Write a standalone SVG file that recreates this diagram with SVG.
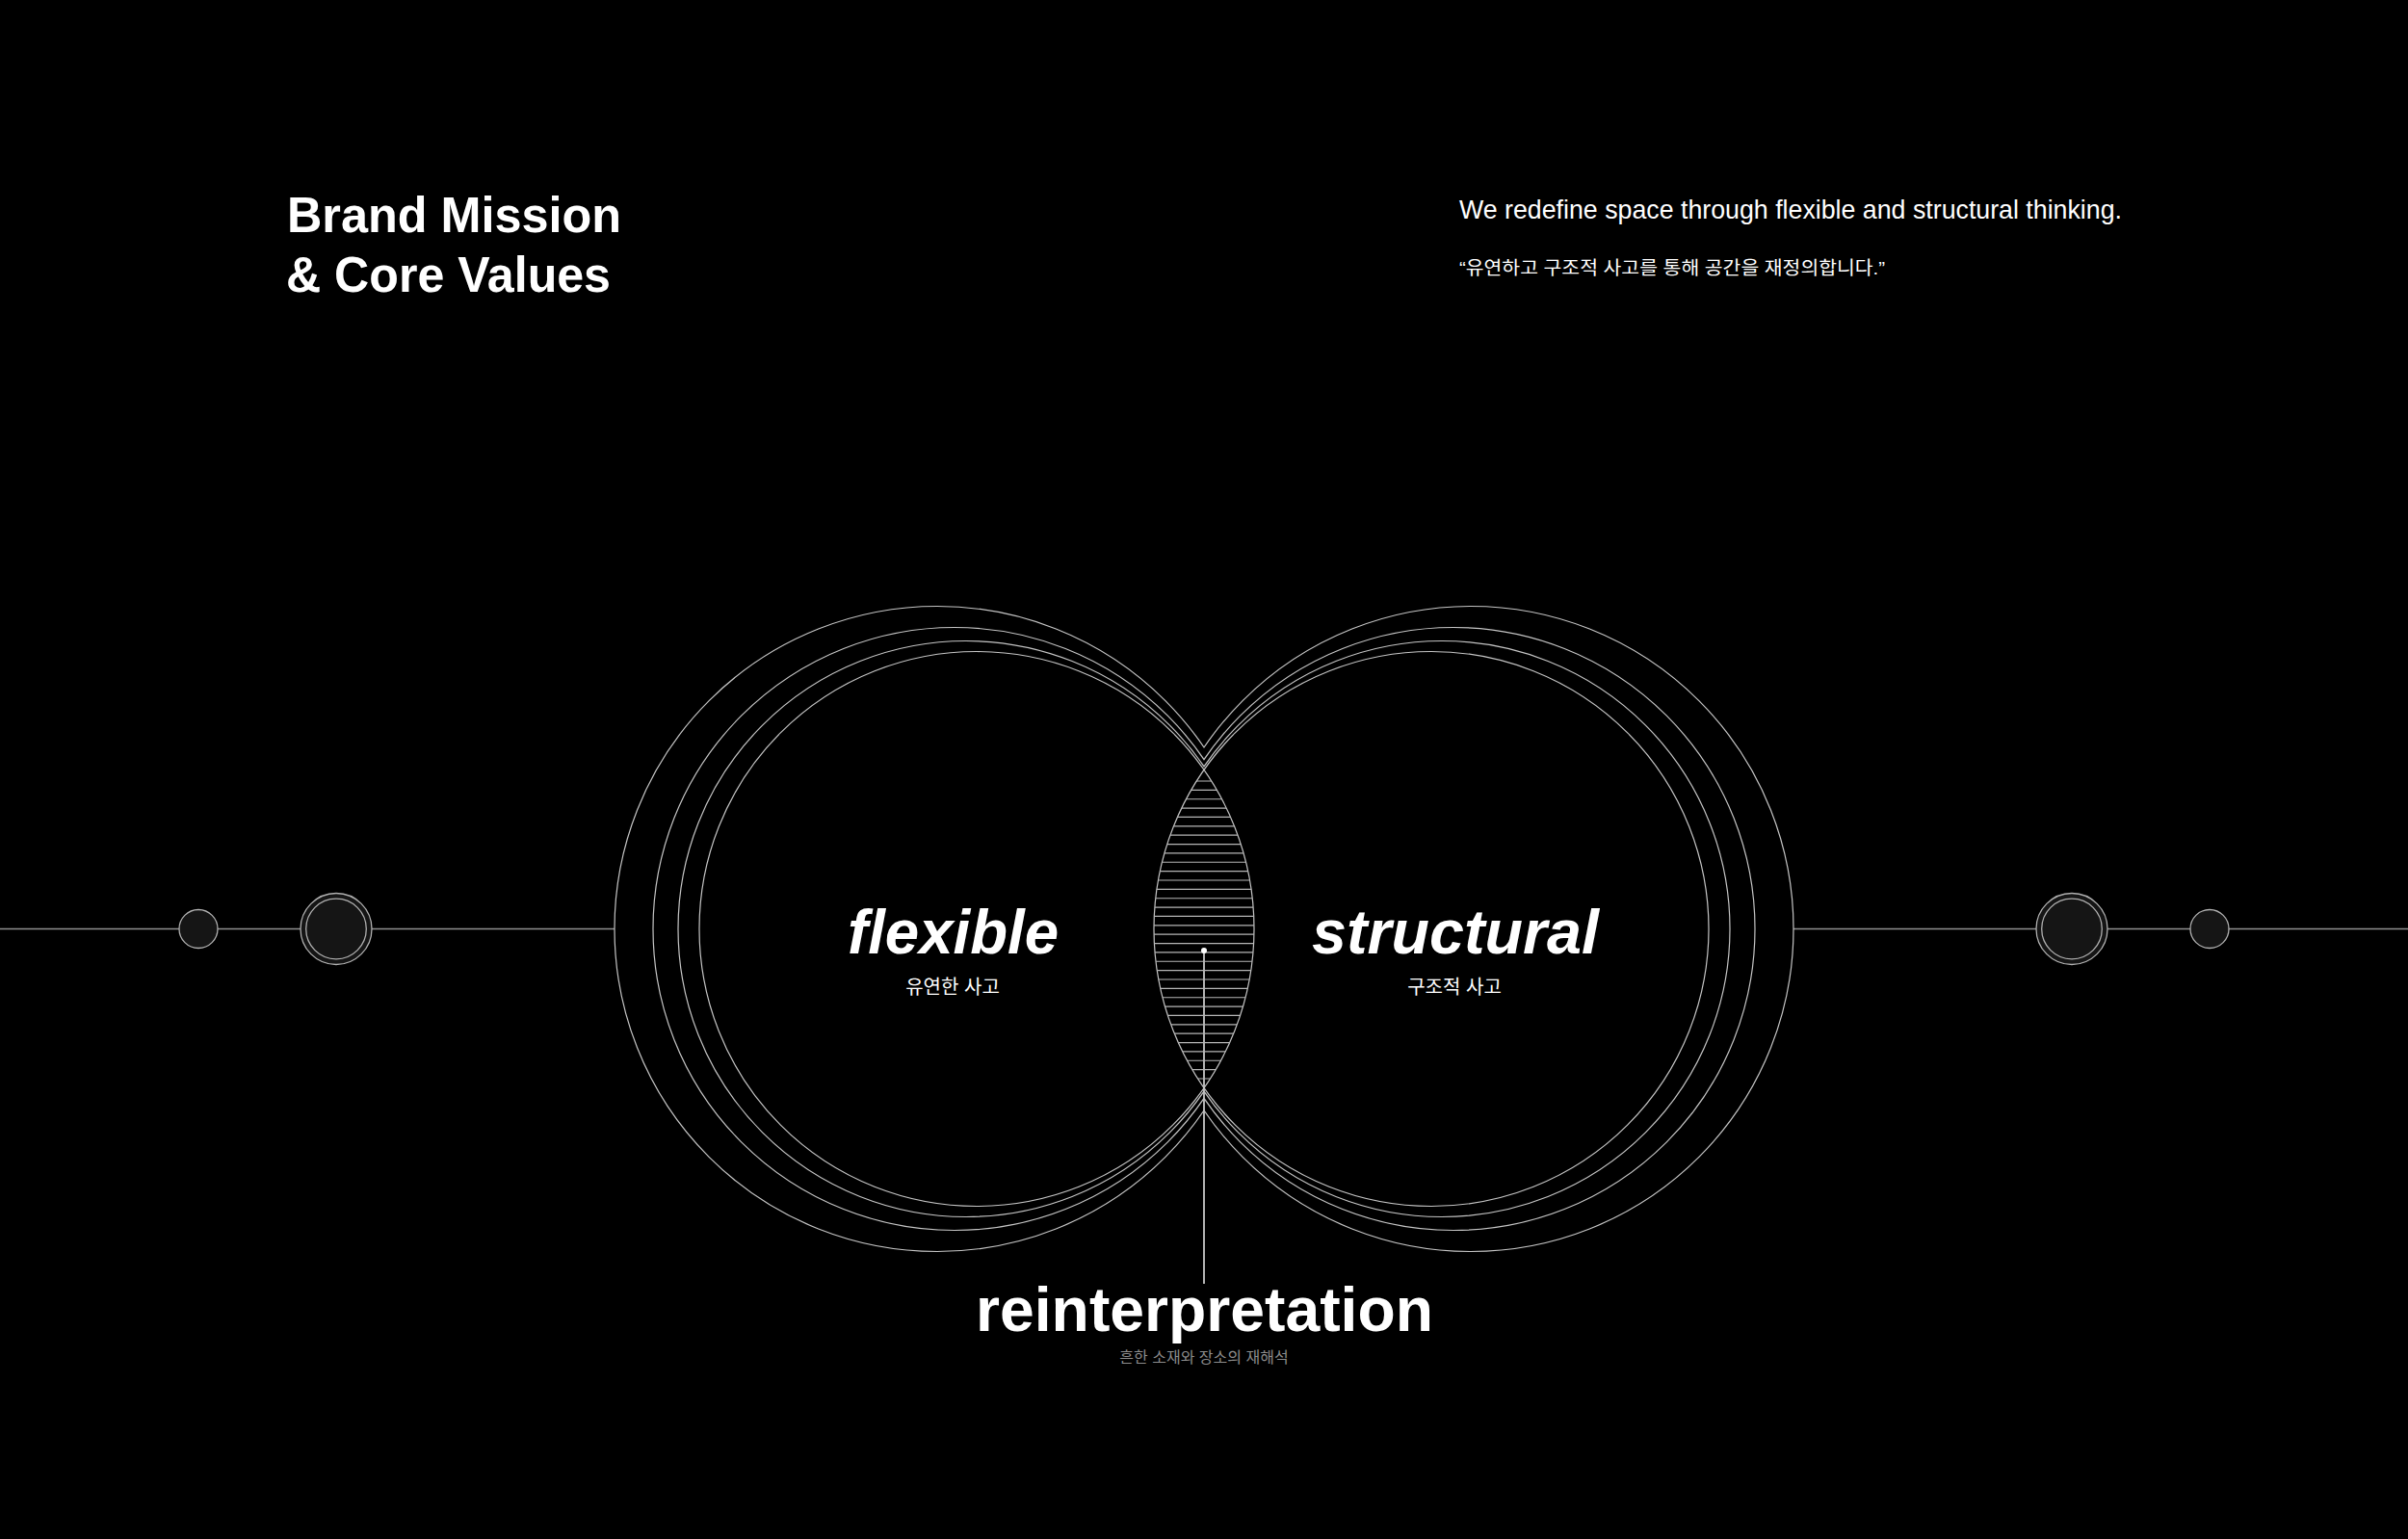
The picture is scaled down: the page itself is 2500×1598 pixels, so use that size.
<svg xmlns="http://www.w3.org/2000/svg" width="2500" height="1598" viewBox="0 0 2500 1598">
<style>
.ring{fill:none;stroke:#c4c4c4;stroke-width:1.2}
.dot{fill:#151515;stroke:#b0b0b0;stroke-width:1.3}
.axis{stroke:#8f8f8f;stroke-width:1.3;fill:none}
.hatch{stroke:#b5b5b5;stroke-width:1.2}
.en{font-family:"Liberation Sans",Arial,sans-serif;fill:#fff}
.kr{font-family:"Liberation Sans","Noto Sans CJK KR",sans-serif;fill:#fff}
</style>
<defs>
<clipPath id="clipL"><rect x="0" y="0" width="1250" height="1598"/></clipPath>
<clipPath id="clipR"><rect x="1250" y="0" width="1250" height="1598"/></clipPath>
<clipPath id="innerL"><circle cx="1014" cy="964.5" r="288"/></clipPath>
<clipPath id="innerR"><circle cx="1486" cy="964.5" r="288"/></clipPath>
</defs>
<rect x="0" y="0" width="2500" height="1598" fill="#000"/>

<g id="connectors">
<line class="axis" x1="0" y1="964.5" x2="638" y2="964.5"/>
<line class="axis" x1="1862" y1="964.5" x2="2500" y2="964.5"/>
<line x1="1250" y1="987" x2="1250" y2="1333" stroke="#e0e0e0" stroke-width="1.6"/>
</g>

<g id="title">
<text class="en" x="298" y="241" font-size="52" font-weight="bold" textLength="347" lengthAdjust="spacingAndGlyphs">Brand Mission</text>
<text class="en" x="297" y="303" font-size="52" font-weight="bold" textLength="337" lengthAdjust="spacingAndGlyphs">&amp; Core Values</text>
</g>

<g id="tagline">
<text class="en" x="1515" y="227" font-size="27.5" textLength="688" lengthAdjust="spacingAndGlyphs">We redefine space through flexible and structural thinking.</text>
<text class="kr" x="1515" y="285" font-size="19" textLength="442" lengthAdjust="spacingAndGlyphs">“유연하고 구조적 사고를 통해 공간을 재정의합니다.”</text>
</g>

<g id="orbit-left">
<circle class="dot" cx="206" cy="964.5" r="20"/>
<circle class="dot" cx="349" cy="964.5" r="37"/>
<circle fill="none" stroke="#b0b0b0" stroke-width="1.3" cx="349" cy="964.5" r="31.3"/>
</g>
<g id="orbit-right">
<circle class="dot" cx="2294" cy="964.5" r="20"/>
<circle class="dot" cx="2151" cy="964.5" r="37"/>
<circle fill="none" stroke="#b0b0b0" stroke-width="1.3" cx="2151" cy="964.5" r="31.3"/>
</g>

<g id="flexible">
<g clip-path="url(#clipL)">
<circle class="ring" cx="973" cy="964.5" r="335"/>
<circle class="ring" cx="991" cy="964.5" r="313"/>
<circle class="ring" cx="1003" cy="964.5" r="299"/>
</g>
<circle class="ring" cx="1014" cy="964.5" r="288"/>
<text class="en" x="880" y="990" font-size="65" font-weight="bold" font-style="italic" textLength="219" lengthAdjust="spacingAndGlyphs">flexible</text>
<text class="kr" x="989" y="1032" font-size="20" text-anchor="middle">유연한 사고</text>
</g>

<g id="structural">
<g clip-path="url(#clipR)">
<circle class="ring" cx="1527" cy="964.5" r="335"/>
<circle class="ring" cx="1509" cy="964.5" r="313"/>
<circle class="ring" cx="1497" cy="964.5" r="299"/>
</g>
<circle class="ring" cx="1486" cy="964.5" r="288"/>
<text class="en" x="1362" y="990" font-size="65" font-weight="bold" font-style="italic" textLength="298" lengthAdjust="spacingAndGlyphs">structural</text>
<text class="kr" x="1510" y="1032" font-size="20" text-anchor="middle">구조적 사고</text>
</g>

<g id="lens">
<g clip-path="url(#innerL)"><g clip-path="url(#innerR)">
<line class="hatch" x1="1190" y1="811" x2="1310" y2="811"/>
<line class="hatch" x1="1190" y1="820.36" x2="1310" y2="820.36"/>
<line class="hatch" x1="1190" y1="829.73" x2="1310" y2="829.73"/>
<line class="hatch" x1="1190" y1="839.09" x2="1310" y2="839.09"/>
<line class="hatch" x1="1190" y1="848.45" x2="1310" y2="848.45"/>
<line class="hatch" x1="1190" y1="857.82" x2="1310" y2="857.82"/>
<line class="hatch" x1="1190" y1="867.18" x2="1310" y2="867.18"/>
<line class="hatch" x1="1190" y1="876.55" x2="1310" y2="876.55"/>
<line class="hatch" x1="1190" y1="885.91" x2="1310" y2="885.91"/>
<line class="hatch" x1="1190" y1="895.27" x2="1310" y2="895.27"/>
<line class="hatch" x1="1190" y1="904.64" x2="1310" y2="904.64"/>
<line class="hatch" x1="1190" y1="914" x2="1310" y2="914"/>
<line class="hatch" x1="1190" y1="923.36" x2="1310" y2="923.36"/>
<line class="hatch" x1="1190" y1="932.73" x2="1310" y2="932.73"/>
<line class="hatch" x1="1190" y1="942.09" x2="1310" y2="942.09"/>
<line class="hatch" x1="1190" y1="951.45" x2="1310" y2="951.45"/>
<line class="hatch" x1="1190" y1="960.82" x2="1310" y2="960.82"/>
<line class="hatch" x1="1190" y1="970.18" x2="1310" y2="970.18"/>
<line class="hatch" x1="1190" y1="979.55" x2="1310" y2="979.55"/>
<line class="hatch" x1="1190" y1="988.91" x2="1310" y2="988.91"/>
<line class="hatch" x1="1190" y1="998.27" x2="1310" y2="998.27"/>
<line class="hatch" x1="1190" y1="1007.64" x2="1310" y2="1007.64"/>
<line class="hatch" x1="1190" y1="1017" x2="1310" y2="1017"/>
<line class="hatch" x1="1190" y1="1026.36" x2="1310" y2="1026.36"/>
<line class="hatch" x1="1190" y1="1035.73" x2="1310" y2="1035.73"/>
<line class="hatch" x1="1190" y1="1045.09" x2="1310" y2="1045.09"/>
<line class="hatch" x1="1190" y1="1054.45" x2="1310" y2="1054.45"/>
<line class="hatch" x1="1190" y1="1063.82" x2="1310" y2="1063.82"/>
<line class="hatch" x1="1190" y1="1073.18" x2="1310" y2="1073.18"/>
<line class="hatch" x1="1190" y1="1082.55" x2="1310" y2="1082.55"/>
<line class="hatch" x1="1190" y1="1091.91" x2="1310" y2="1091.91"/>
<line class="hatch" x1="1190" y1="1101.27" x2="1310" y2="1101.27"/>
<line class="hatch" x1="1190" y1="1110.64" x2="1310" y2="1110.64"/>
<line class="hatch" x1="1190" y1="1120" x2="1310" y2="1120"/>
</g></g>
<circle cx="1250" cy="987" r="3" fill="#fff"/>
</g>

<g id="reinterpretation">
<text class="en" x="1013" y="1382" font-size="64" font-weight="bold" textLength="475" lengthAdjust="spacingAndGlyphs">reinterpretation</text>
<text class="kr" x="1250" y="1415" font-size="16" text-anchor="middle" style="fill:#8c8c8c">흔한 소재와 장소의 재해석</text>
</g>
</svg>
